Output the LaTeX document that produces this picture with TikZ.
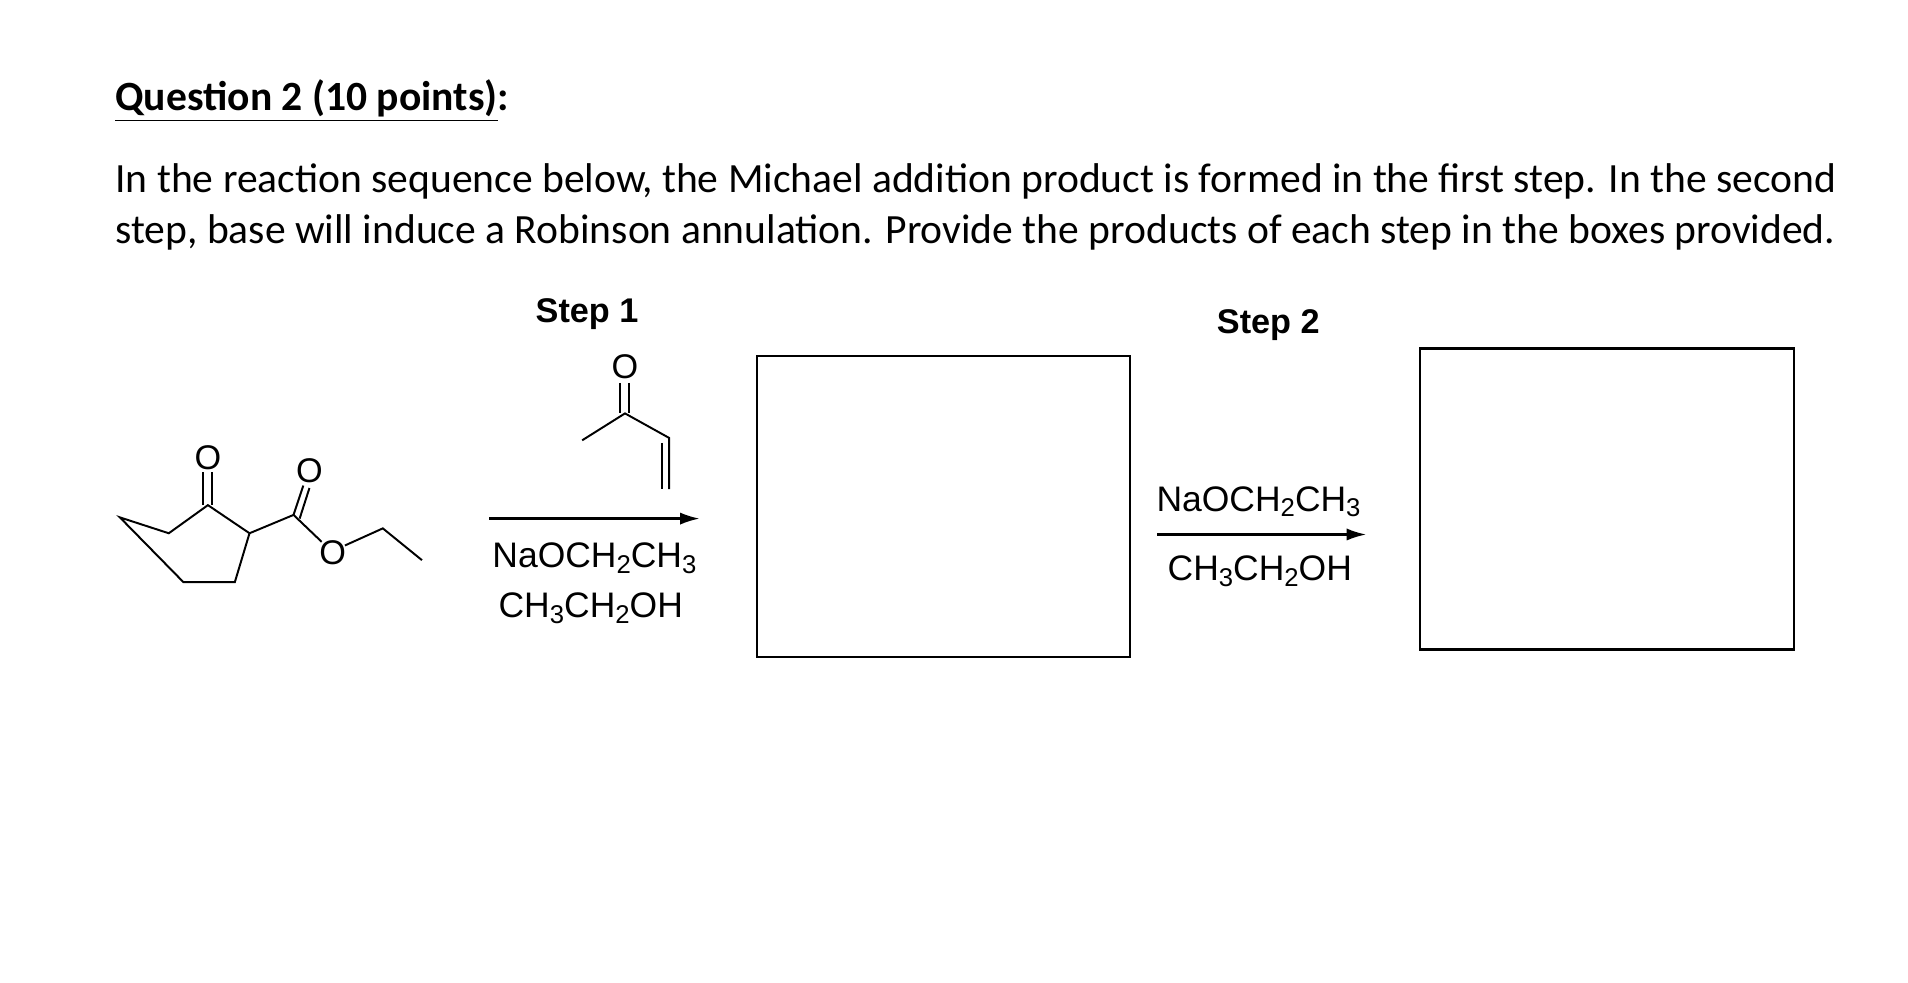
\documentclass[tikz,border=0pt]{standalone}
\usepackage{fontspec}
\setmainfont{Carlito}
\newfontfamily\arialf{Liberation Sans}
\newcommand{\sbs}[1]{\raisebox{-0.3ex}{\fontsize{10.5}{12}\selectfont #1}}
\begin{document}
\begin{tikzpicture}[x=0.5pt,y=-0.5pt,
  body/.style={anchor=base west,inner sep=0pt,font=\fontsize{17}{20}\selectfont},
  rea/.style={anchor=base,inner sep=0pt,font=\arialf\fontsize{14.5}{17}\selectfont},
  stp/.style={anchor=base,inner sep=0pt,font=\arialf\bfseries\fontsize{14}{17}\selectfont},
  bond/.style={line width=0.8pt},
  atom/.style={inner sep=0pt,font=\arialf\fontsize{14}{17}\selectfont},
  answer/.style={draw,line width=0.9pt},
  rxn/.style={line width=0.9pt,-{Latex[length=8pt,width=5pt]}}]
\useasboundingbox (0,0) rectangle (1560,803);
\usetikzlibrary{arrows.meta}
\node[body,font=\bfseries\fontsize{17}{20}\selectfont] (q) at (94,90) {\underline{Question 2 (10 points)}:};
\node[body] (l1) at (94,157) {In the reaction sequence below, the Michael addition product is formed in the first step. In the second};
\node[body] (l2) at (94,199) {step, base will induce a Robinson annulation. Provide the products of each step in the boxes provided.};
\node[stp] (s1) at (480,264) {Step 1};
\node[stp] (s2) at (1037,273) {Step 2};
% boxes
\draw[answer] (619,291) rectangle (924,537);
\draw[answer] (1161,285) rectangle (1467,531);
% arrows
\coordinate (a1s) at (400,424); \coordinate (a1e) at (572,424);
\draw[rxn] (a1s) -- (a1e);
\coordinate (a2s) at (946,437); \coordinate (a2e) at (1117,437);
\draw[rxn] (a2s) -- (a2e);
\node[rea] (r1) at (486,464) {NaOCH\sbs{2}CH\sbs{3}};
\node[rea] (r2) at (483,505) {CH\sbs{3}CH\sbs{2}OH};
\node[rea] (r3) at (1029,418) {NaOCH\sbs{2}CH\sbs{3}};
\node[rea] (r4) at (1030,475) {CH\sbs{3}CH\sbs{2}OH};
% molecule 1
\node[atom] (o1) at (170,374) {O};
\node[atom] (o2) at (253,385) {O};
\node[atom] (o3) at (272,452) {O};
\draw[bond] (98,423) -- (138,436) -- (170,413) -- (204,436) -- (192,476) -- (150,476) -- cycle;
\draw[bond] (166,413) -- (166,386);
\draw[bond] (173,413) -- (173,386);
\draw[bond] (204,436) -- (240,421);
\draw[bond] (240,421) -- (248,397);
\draw[bond] (245,424) -- (253,399);
\draw[bond] (240,421) -- (263,443);
\draw[bond] (282,446) -- (313,432) -- (345,458);
% butenone
\node[atom] (o4) at (511,300) {O};
\draw[bond] (507,313) -- (507,338);
\draw[bond] (514,313) -- (514,338);
\draw[bond] (476,360) -- (511,338) -- (547,358) -- (547,400);
\draw[bond] (541,362) -- (541,400);
\end{tikzpicture}
\end{document}
